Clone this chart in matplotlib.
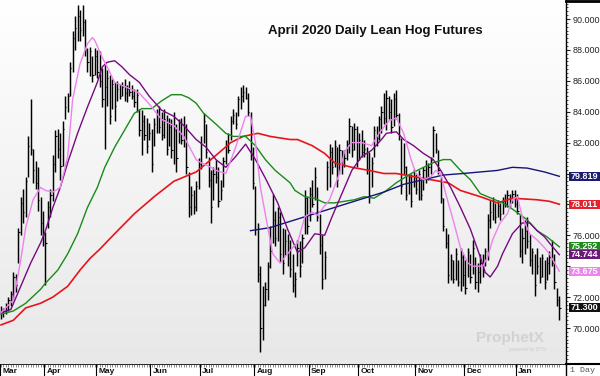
import numpy as np
import pandas as pd
import matplotlib
matplotlib.use("Agg")
import matplotlib.pyplot as plt
from matplotlib.colors import LinearSegmentedColormap
from matplotlib.patches import Rectangle
from matplotlib.lines import Line2D
from matplotlib.ticker import MultipleLocator

plt.rcParams['font.family'] = ['Liberation Sans', 'DejaVu Sans']

## daily bars (high / low / close), one per trading day from 6 Mar 2019
highs = [71.4, 71.3, 71.6, 72.0, 72.4, 73.6, 73.5, 76.5, 78.5, 79.0,
         79.8, 82.4, 84.8, 81.6, 80.8, 80.4, 78.5, 77.6, 76.2, 78.2,
         79.0, 81.2, 82.8, 82.9, 82.6, 83.4, 85.0, 85.2, 87.2, 89.2,
         90.2, 90.9, 90.6, 90.9, 90.0, 88.1, 88.2, 87.6, 88.1, 88.0,
         87.9, 86.8, 87.0, 86.7, 86.4, 86.1, 85.9, 86.0, 85.8, 85.9,
         86.1, 85.7, 86.0, 85.7, 85.5, 85.5, 84.2, 84.1, 83.8, 83.6,
         83.3, 82.9, 83.6, 84.2, 84.4, 84.0, 84.2, 83.8, 83.6, 83.5,
         84.0, 83.2, 83.5, 83.6, 83.7, 83.2, 80.1, 79.2, 78.9, 79.5,
         81.0, 82.4, 83.9, 83.2, 81.1, 80.2, 80.4, 80.9, 80.4, 79.6,
         81.1, 82.2, 82.6, 83.7, 84.2, 84.0, 85.0, 85.6, 85.7, 85.6,
         85.2, 84.0, 81.7, 79.2, 76.8, 74.0, 72.7, 73.0, 74.3, 76.6,
         78.7, 77.6, 77.8, 77.5, 76.5, 76.4, 76.1, 75.7, 74.8, 73.6,
         75.7, 75.6, 76.1, 78.9, 78.5, 79.1, 79.6, 80.4, 79.1, 77.4,
         76.0, 75.0, 80.8, 81.9, 81.7, 82.2, 81.7, 81.9, 81.5, 81.5,
         82.2, 83.6, 83.1, 83.3, 83.1, 82.6, 82.8, 82.2, 81.7, 81.4,
         81.1, 83.1, 83.1, 83.7, 84.4, 85.2, 85.4, 85.0, 84.8, 85.2,
         85.4, 83.9, 82.3, 82.0, 80.5, 80.0, 80.0, 80.3, 80.0, 80.2,
         79.6, 80.4, 80.9, 80.7, 81.1, 83.1, 82.6, 81.5, 79.8, 78.4,
         76.5, 76.1, 74.8, 74.4, 75.2, 74.4, 75.2, 74.8, 74.4, 75.2,
         74.8, 75.7, 74.6, 74.2, 74.8, 74.8, 75.2, 77.4, 78.3, 78.5,
         78.1, 78.3, 78.1, 78.5, 78.7, 78.9, 78.7, 78.9, 78.9, 78.7,
         77.3, 76.5, 77.0, 77.2, 76.1, 75.2, 74.8, 75.2, 74.6, 74.8,
         74.4, 74.6, 75.0, 75.7, 74.8, 72.6, 72.1]
lows = [70.6, 70.7, 70.9, 71.1, 71.4, 71.8, 72.3, 74.2, 76.0, 76.8,
        77.2, 79.8, 81.2, 79.4, 79.0, 77.6, 76.0, 75.3, 72.8, 76.5,
        77.2, 78.2, 80.1, 81.0, 79.6, 80.5, 83.5, 84.0, 85.0, 86.6,
        88.0, 88.6, 88.6, 88.9, 87.6, 86.6, 86.3, 85.9, 86.4, 86.2,
        85.6, 84.3, 81.6, 84.4, 83.2, 84.2, 83.4, 84.7, 84.8, 85.0,
        84.7, 84.6, 85.0, 84.8, 84.3, 84.0, 82.4, 81.2, 82.2, 81.3,
        82.2, 80.1, 81.8, 82.6, 82.6, 82.2, 82.3, 81.2, 81.8, 81.0,
        80.6, 80.1, 82.0, 81.9, 81.7, 80.0, 77.2, 77.3, 77.4, 77.6,
        79.0, 80.3, 82.0, 81.0, 79.1, 76.8, 78.3, 79.4, 77.8, 78.3,
        79.1, 80.6, 81.3, 82.2, 83.2, 82.9, 83.7, 84.2, 84.6, 84.8,
        83.7, 80.9, 79.0, 76.0, 73.0, 68.45, 69.2, 71.4, 71.8, 73.9,
        75.5, 75.3, 75.6, 74.3, 73.5, 74.7, 74.0, 73.3, 72.3, 72.0,
        74.0, 73.3, 74.2, 76.1, 76.1, 76.9, 77.8, 78.3, 76.9, 74.8,
        72.5, 73.2, 78.9, 79.1, 80.0, 80.4, 79.1, 80.0, 80.0, 80.4,
        80.9, 81.3, 81.1, 81.5, 80.4, 80.9, 81.1, 81.1, 80.0, 78.1,
        79.1, 81.1, 81.8, 82.2, 82.6, 83.2, 82.8, 83.5, 82.6, 83.1,
        83.5, 82.2, 78.7, 80.0, 78.3, 78.7, 77.8, 79.1, 78.7, 78.3,
        78.3, 78.9, 79.4, 79.6, 80.0, 81.1, 81.3, 80.0, 78.1, 76.3,
        75.2, 72.9, 73.1, 72.9, 73.1, 72.7, 72.4, 72.7, 72.2, 73.3,
        72.9, 73.5, 72.5, 72.3, 72.9, 73.3, 74.0, 74.4, 76.5, 77.0,
        76.8, 77.2, 77.0, 77.4, 77.8, 77.8, 77.8, 78.1, 77.8, 77.4,
        74.6, 74.2, 74.8, 75.2, 74.0, 73.5, 72.1, 73.5, 72.9, 73.3,
        72.5, 73.1, 73.5, 74.0, 72.5, 71.4, 70.5]
closes = [71.0, 71.1, 71.4, 71.8, 72.2, 73.3, 72.8, 76.2, 78.1, 77.5,
          79.5, 81.8, 81.6, 80.2, 79.4, 78.3, 76.8, 76.0, 75.5, 77.8,
          78.6, 80.6, 82.4, 81.6, 80.5, 82.9, 84.3, 85.0, 86.8, 88.8,
          89.4, 90.2, 89.3, 89.8, 88.0, 87.2, 87.9, 86.4, 87.6, 86.6,
          86.0, 84.8, 85.6, 86.2, 83.7, 85.8, 84.4, 85.5, 85.0, 85.6,
          85.2, 85.5, 85.3, 85.0, 84.6, 85.1, 82.8, 83.4, 82.5, 81.8,
          82.6, 80.6, 83.2, 83.8, 83.0, 82.5, 83.5, 81.6, 83.0, 81.5,
          82.8, 81.0, 82.6, 82.2, 83.0, 80.4, 77.8, 78.6, 77.8, 79.2,
          80.6, 81.9, 83.4, 81.4, 79.6, 77.8, 80.0, 79.8, 78.2, 78.9,
          80.8, 81.8, 81.5, 83.4, 83.8, 83.2, 84.8, 85.0, 85.3, 84.9,
          84.0, 81.3, 79.4, 76.4, 73.5, 70.0, 71.5, 72.5, 74.0, 75.0,
          77.0, 75.8, 77.2, 74.8, 74.2, 75.6, 74.5, 73.8, 72.8, 73.2,
          75.2, 74.0, 75.8, 78.4, 76.6, 78.7, 78.0, 79.8, 77.2, 75.4,
          73.2, 74.6, 80.4, 81.4, 80.4, 81.8, 79.6, 81.5, 80.6, 81.0,
          81.9, 83.1, 81.5, 82.9, 80.9, 82.2, 81.4, 81.6, 80.3, 78.6,
          80.7, 82.8, 82.3, 83.5, 84.0, 83.6, 84.9, 84.0, 83.0, 84.8,
          83.8, 82.5, 79.2, 80.4, 78.6, 79.8, 78.2, 79.8, 79.0, 80.0,
          78.6, 80.2, 79.7, 80.4, 80.9, 82.8, 81.6, 80.2, 78.4, 76.6,
          75.5, 73.4, 74.4, 73.2, 74.8, 73.0, 74.6, 73.4, 72.6, 74.9,
          73.3, 75.2, 73.0, 73.6, 74.2, 73.6, 75.0, 77.0, 77.5, 78.2,
          77.2, 77.9, 77.4, 78.2, 78.0, 78.6, 78.2, 78.7, 78.0, 77.6,
          75.0, 75.8, 76.3, 75.6, 74.4, 74.9, 72.8, 74.0, 73.3, 74.5,
          73.0, 74.2, 74.6, 74.2, 73.0, 71.8, 71.3]

## moving averages (trading-day index, value)
pink_idx = [0, 5, 8, 10, 13, 16, 18, 21, 24, 27, 29, 32, 35, 37, 38, 41, 43, 46, 52, 56,
            60, 65, 70, 74, 79, 81, 85, 87, 91, 95, 99, 101, 103, 105, 108, 110, 113, 116, 118, 120,
            123, 126, 128, 133, 137, 139, 142, 146, 150, 153, 157, 160, 163, 166, 168, 171, 174, 176, 178, 180,
            183, 186, 189, 191, 195, 197, 199, 202, 205, 207, 209, 211, 214, 217, 220, 222, 226]
pink_val = [71.0, 71.8, 74.4, 76.5, 78.3, 79.1, 78.9, 78.8, 79.1, 81.1, 84.8, 87.1, 88.4, 88.8, 88.6, 87.5, 86.9, 85.9, 85.5, 85.2,
            84.5, 83.5, 83.1, 82.4, 80.9, 80.7, 80.4, 80.2, 80.0, 81.7, 83.7, 83.7, 82.0, 79.1, 76.5, 74.8, 74.2, 74.8, 75.2, 75.5,
            77.2, 77.5, 77.3, 78.3, 80.0, 81.4, 82.0, 82.0, 81.8, 82.6, 83.4, 83.6, 82.6, 80.9, 80.0, 79.6, 79.8, 80.2, 80.0, 78.7,
            77.0, 75.2, 74.2, 74.0, 74.0, 74.6, 75.7, 76.8, 77.4, 78.3, 78.5, 77.2, 76.1, 75.7, 75.2, 74.8, 73.675]

purple_idx = [0, 4, 8, 12, 16, 18, 21, 24, 27, 31, 35, 39, 41, 43, 46, 49, 52, 56, 60, 65,
              70, 74, 79, 83, 87, 91, 95, 99, 103, 107, 112, 116, 120, 123, 127, 131, 134, 138, 142, 146,
              150, 154, 156, 160, 163, 167, 171, 175, 178, 182, 186, 190, 194, 196, 198, 201, 203, 207, 211, 214,
              217, 220, 222, 226]
purple_val = [71.0, 71.2, 72.7, 74.2, 75.5, 76.3, 77.8, 79.1, 80.7, 82.6, 84.3, 85.9, 86.9, 87.2, 87.3, 86.9, 86.4, 85.9, 85.0, 84.1,
              83.7, 83.1, 82.2, 81.7, 80.9, 80.4, 81.1, 81.9, 80.9, 79.7, 78.1, 76.4, 74.9, 75.2, 76.1, 76.0, 77.2, 78.7, 80.2, 81.1,
              81.5, 82.2, 82.6, 82.7, 82.2, 81.8, 81.3, 80.9, 80.2, 79.1, 77.8, 76.4, 74.6, 73.6, 73.3, 74.0, 74.8, 76.1, 76.8, 76.8,
              76.3, 75.9, 75.5, 74.744]

green_idx = [0, 5, 10, 16, 18, 23, 27, 31, 35, 39, 42, 46, 50, 54, 57, 61, 65, 69, 73, 76,
             79, 82, 87, 91, 94, 99, 103, 107, 111, 117, 119, 123, 127, 131, 135, 139, 143, 147, 151, 154,
             156, 160, 166, 171, 175, 179, 182, 186, 190, 194, 197, 203, 207, 213, 217, 221, 226]
green_val = [70.9, 71.1, 71.6, 72.5, 72.9, 73.75, 74.8, 76.1, 77.8, 79.1, 80.4, 81.7, 82.8, 83.9, 84.2, 84.2, 84.7, 85.1, 85.1, 84.9,
             84.55, 83.9, 83.2, 82.6, 82.4, 82.4, 81.8, 80.9, 80.2, 79.4, 78.9, 78.5, 78.4, 78.1, 78.1, 78.2, 78.3, 78.5, 78.4, 78.7,
             78.9, 79.4, 80.0, 80.4, 80.7, 80.9, 80.9, 80.2, 79.6, 78.7, 78.5, 78.1, 77.7, 77.0, 76.3, 75.9, 75.252]

red_idx = [0, 5, 10, 16, 21, 27, 32, 36, 40, 46, 54, 62, 70, 79, 85, 93, 98, 104, 109, 117,
           120, 126, 131, 135, 142, 149, 155, 160, 167, 174, 181, 186, 194, 201, 203, 207, 217, 222, 226]
red_val = [70.2, 70.5, 71.3, 71.6, 72.0, 72.7, 73.75, 74.5, 75.1, 76.1, 77.4, 78.5, 79.5, 80.1, 80.9, 82.0, 82.4, 82.6, 82.4, 82.2,
           82.2, 81.8, 81.3, 80.7, 80.4, 80.2, 80.0, 80.0, 79.8, 79.6, 79.4, 78.9, 78.5, 78.1, 78.2, 78.4, 78.3, 78.2, 78.011]

blue_idx = [101, 109, 117, 123, 131, 139, 147, 155, 163, 171, 179, 187, 194, 201, 207, 213, 220, 226]
blue_val = [76.3, 76.5, 76.9, 77.2, 77.6, 78.0, 78.4, 78.8, 79.3, 79.6, 79.9, 80.0, 80.1, 80.2, 80.4, 80.35, 80.1, 79.819]

last_values = [79.819, 78.011, 75.252, 74.744, 73.675, 71.300]
last_colors = ['#1b1b6f', '#e3232b', '#1d8c1d', '#6a1b78', '#ee84ee', '#111111']

month_names = ['Mar', 'Apr', 'May', 'Jun', 'Jul', 'Aug', 'Sep', 'Oct', 'Nov', 'Dec', 'Jan']
y_ticks = list(range(70, 91, 2))
hidden_ticks = [74, 78, 80]   # covered by the last-value boxes

## trading calendar
n = len(closes)
days = pd.bdate_range('2019-03-06', '2020-01-28')
hol = pd.to_datetime(['2019-04-19', '2019-05-27', '2019-07-04', '2019-09-02',
                      '2019-11-28', '2019-12-25', '2020-01-01', '2020-01-20'])
days = days[~days.isin(hol)][:n]
starts = [0] + [i for i in range(1, n) if days[i].month != days[i - 1].month]

W, H = 600, 376
pr = 566      # right edge of the price panel, px
strip = 12    # height of date strip, px
ymin, ymax = 67.67, 91.23
xmin, xmax = -0.4, 228.7

fig = plt.figure(figsize=(W / 100, H / 100), dpi=100)
ax = fig.add_axes([0, strip / H, pr / W, (H - strip) / H])

cmap = LinearSegmentedColormap.from_list('bg', ['#ffffff', '#e8e8e8'])
ax.imshow(np.linspace(0, 1, 256)[:, None], cmap=cmap, aspect='auto',
          extent=[xmin, xmax, ymin, ymax], zorder=0)

x = np.arange(n)
ax.vlines(x, lows, highs, color='black', lw=1.05, zorder=2)
ax.hlines(closes, x, x + 0.5, color='black', lw=0.8, zorder=2)

ax.plot(red_idx, red_val, color='#e8141c', lw=1.2, zorder=3)
ax.plot(green_idx, green_val, color='#1a8a1a', lw=1.0, zorder=3)
ax.plot(blue_idx, blue_val, color='#14147a', lw=1.0, zorder=3)
ax.plot(purple_idx, purple_val, color='#780a80', lw=1.0, zorder=3)
ax.plot(pink_idx, pink_val, color='#ee82ee', lw=1.0, zorder=4)

ax.set_xlim(xmin, xmax)
ax.set_ylim(ymin, ymax)
for s in ['top', 'left', 'bottom']:
    ax.spines[s].set_visible(False)
ax.spines['right'].set_color('black')
ax.spines['right'].set_linewidth(1.0)
ax.set_xticks([])
ax.yaxis.tick_right()
ax.set_yticks(y_ticks)
ax.set_yticklabels(['' if v in hidden_ticks else f"{v:.3f}" for v in y_ticks])
ax.yaxis.set_minor_locator(MultipleLocator(0.25))
ax.tick_params(axis='y', which='major', length=3, width=0.8, pad=1.5,
               labelsize=6.5, colors='#222222')
ax.tick_params(axis='y', which='minor', length=1.5, width=0.6, colors='#333333')

## date strip
ax2 = fig.add_axes([0, 0, pr / W, strip / H])
ax2.set_xlim(xmin, xmax)
ax2.set_ylim(0, 1)
ax2.set_axis_off()
ax2.axhline(0.97, color='black', lw=1.2)
ax2.vlines(x, 0.78, 1.0, color='#333333', lw=0.4)
ax2.vlines(np.array(starts) - 0.5, 0, 1, color='black', lw=0.8)
for s, name in zip(starts, month_names):
    ax2.text(max(s - 0.5, xmin) + 0.9, 0.4, name, fontsize=6, fontweight='bold',
             ha='left', va='center', color='#111111')

## right-hand extras
fig.add_artist(Line2D([pr / W, pr / W], [0, strip / H], color='black', lw=1.0))
fig.add_artist(Line2D([pr / W, 1], [strip / H, strip / H], color='black', lw=1.5))
fig.add_artist(Line2D([pr / W, 1], [1 - 1 / H, 1 - 1 / H], color='black', lw=2.0))
fig.text(583 / W, 6 / H, '1 Day', fontsize=6, family='Liberation Mono',
         color='#555555', ha='center', va='center')

for v, c in zip(last_values, last_colors):
    yf = (strip + (v - ymin) / (ymax - ymin) * (H - strip)) / H
    fig.add_artist(Rectangle((569 / W, yf - 4.5 / H), 31 / W, 9 / H,
                             facecolor=c, edgecolor='none'))
    fig.text(584.5 / W, yf, f"{v:.3f}", fontsize=6.5, fontweight='bold',
             color='white', ha='center', va='center')

fig.text(375 / W, 1 - 31 / H, 'April 2020 Daily Lean Hog Futures', fontsize=9.5,
         fontweight='bold', color='#111111', ha='center', va='center')
fig.text(510 / W, 1 - 338 / H, 'ProphetX', fontsize=11, fontweight='bold',
         color='#d2d2d2', ha='center', va='center')
fig.text(527 / W, 1 - 349 / H, 'powered by DTN', fontsize=3.5,
         color='#cccccc', ha='center', va='center')

fig.savefig('out.png', dpi=100)
